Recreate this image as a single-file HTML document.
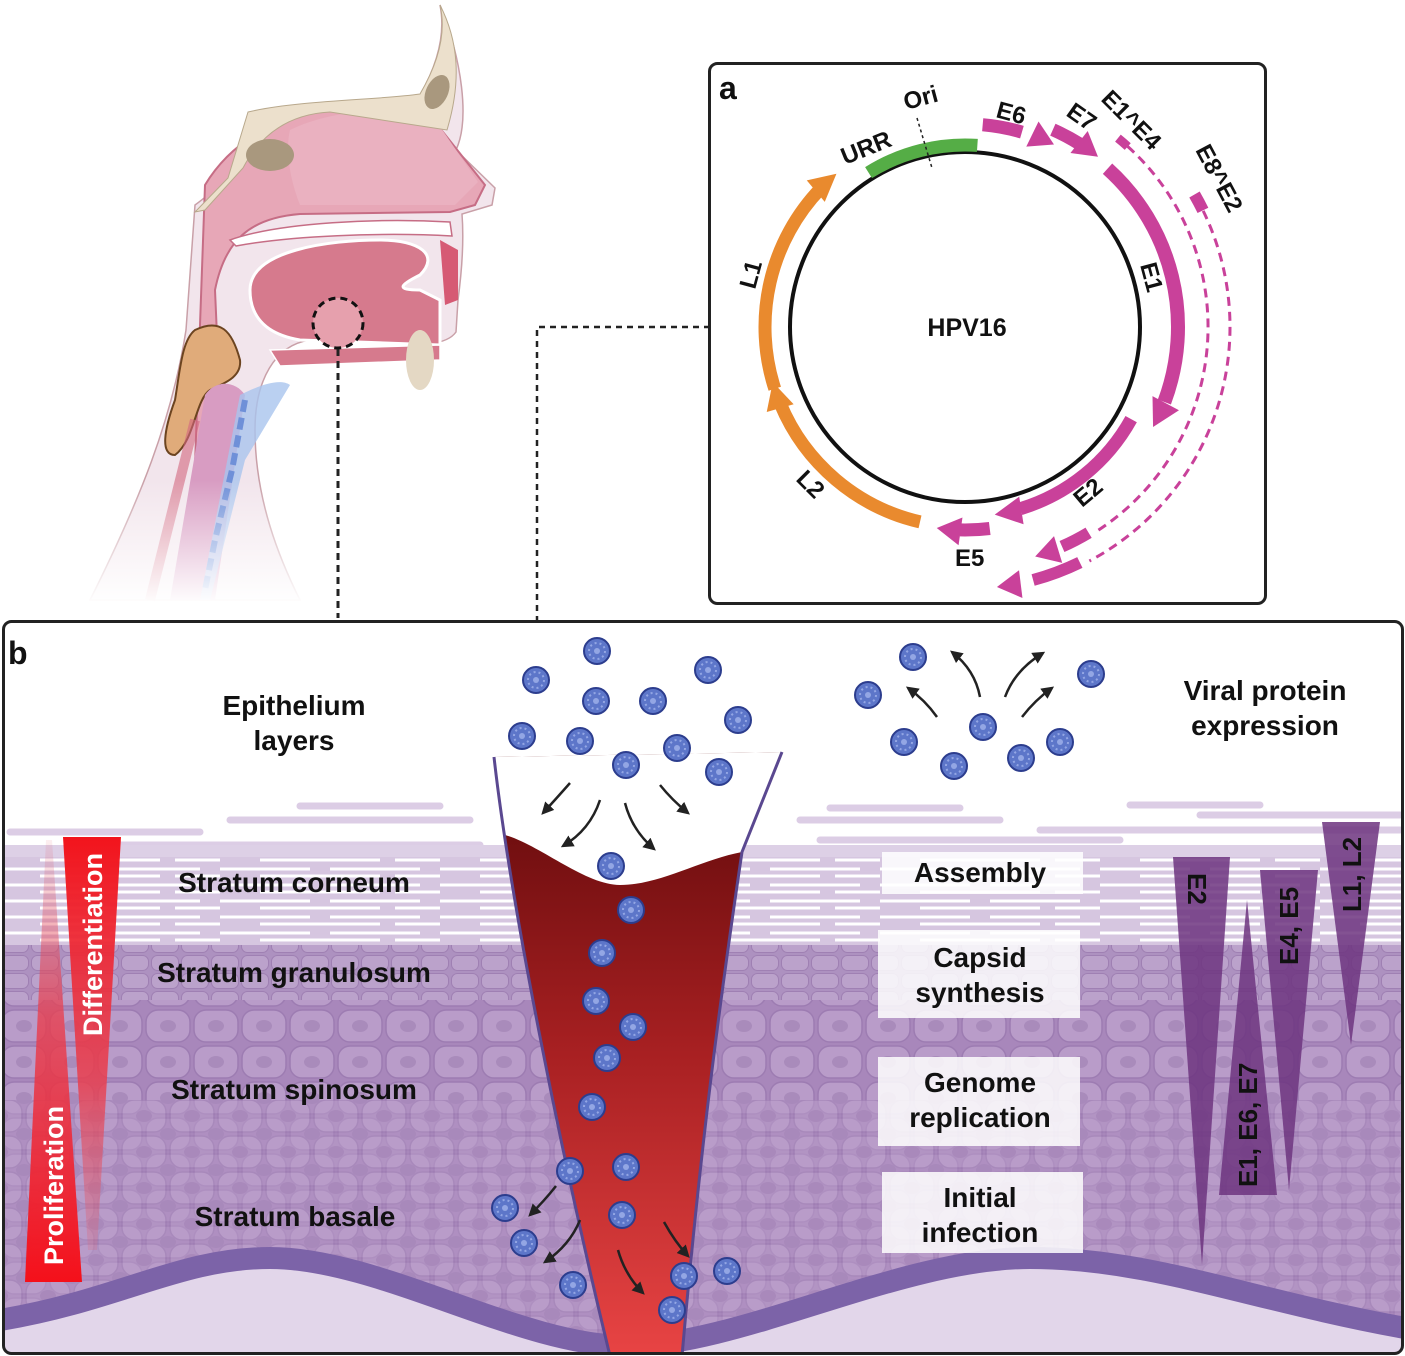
<!DOCTYPE html>
<html><head><meta charset="utf-8"><style>
html,body{margin:0;padding:0;background:#fff}
svg{display:block}
text{font-family:"Liberation Sans",Arial,sans-serif;font-weight:bold;fill:#111}
</style></head><body>
<svg width="1405" height="1356" viewBox="0 0 1405 1356" xmlns="http://www.w3.org/2000/svg">
<defs>
<linearGradient id="blood" x1="0" y1="0" x2="0" y2="1">
<stop offset="0" stop-color="#5c0809"/><stop offset="0.5" stop-color="#a82022"/><stop offset="1" stop-color="#e84444"/></linearGradient>
<linearGradient id="fadeW" x1="0" y1="0" x2="0" y2="1">
<stop offset="0" stop-color="#fff" stop-opacity="0"/><stop offset="1" stop-color="#fff" stop-opacity="1"/></linearGradient>
<linearGradient id="diff" x1="0" y1="0" x2="0" y2="1">
<stop offset="0" stop-color="#f2141c"/><stop offset="0.6" stop-color="#e84050" stop-opacity="0.85"/><stop offset="1" stop-color="#e06070" stop-opacity="0.2"/></linearGradient>
<linearGradient id="prol" x1="0" y1="1" x2="0" y2="0">
<stop offset="0" stop-color="#f5101a"/><stop offset="0.6" stop-color="#e84050" stop-opacity="0.8"/><stop offset="1" stop-color="#e06070" stop-opacity="0.1"/></linearGradient>
<pattern id="cells" width="48" height="36" patternUnits="userSpaceOnUse">
<rect width="48" height="36" fill="#a887bb"/>
<rect x="2" y="2" width="44" height="32" rx="12" fill="#b99cc9" stroke="#9d7cb2" stroke-width="1.5"/>
<ellipse cx="24" cy="18" rx="8" ry="6" fill="#a98bbb"/>
</pattern>
<pattern id="cells2" width="48" height="36" patternUnits="userSpaceOnUse" x="24" y="18">
<rect width="48" height="36" fill="#a887bb"/>
<rect x="2" y="2" width="44" height="32" rx="12" fill="#b99cc9" stroke="#9d7cb2" stroke-width="1.5"/>
<ellipse cx="24" cy="18" rx="8" ry="6" fill="#a98bbb"/>
</pattern>
<pattern id="gran" width="30" height="18" patternUnits="userSpaceOnUse">
<rect width="30" height="18" fill="#ad91c0"/>
<rect x="1.5" y="1.5" width="27" height="15" rx="6" fill="#bba2cb" stroke="#9f80b3" stroke-width="1"/>
</pattern>
<pattern id="corn" width="220" height="16" patternUnits="userSpaceOnUse">
<rect width="220" height="16" fill="#d6c6e0"/>
<path d="M0 5 H90 M110 5 H200 M40 12 H160 M175 12 H220" stroke="#fff" stroke-width="3"/>
</pattern>
<marker id="ah" viewBox="0 0 10 10" refX="8" refY="5" markerWidth="5" markerHeight="5" orient="auto"><path d="M0 0 L10 5 L0 10 Z" fill="#222"/></marker>
<g id="v"><circle r="13" fill="#5d76c9" stroke="#2c3d8e" stroke-width="2"/>
<circle r="8" fill="none" stroke="#93a6e4" stroke-width="2" stroke-dasharray="2 3"/>
<circle r="3" fill="#93a6e4"/></g>
</defs>

<!-- ===== HEAD ===== -->
<g>
<path d="M440 5 C462 60 470 120 456 150 L495 188 L492 205 L462 214 C464 240 462 270 458 300 L456 332 C446 346 420 345 390 342 L310 340 C275 345 255 380 255 430 C255 500 280 560 300 600 L90 600 C140 500 172 420 186 330 L195 205 C230 180 300 105 420 95 C440 60 445 30 440 5 Z" fill="#f2e5ec" stroke="#c9a0a8" stroke-width="1.5"/>
<path d="M205 185 C235 135 290 112 335 108 L420 103 L485 185 L475 205 L450 212 L300 214 C250 218 225 240 215 290 L222 450 L195 465 Z" fill="#e7a7b7" stroke="#c66d85" stroke-width="2"/>
<path d="M290 130 C330 110 400 105 430 112 L478 182 L455 205 L300 205 C290 180 285 150 290 130 Z" fill="#eab1c0"/>
<path d="M195 212 L228 178 L248 112 C300 100 380 100 420 94 C440 60 446 30 440 5 C458 40 462 80 447 130 L330 112 C292 114 262 132 243 168 L205 210 Z" fill="#ece0cc" stroke="#b8a88c" stroke-width="1"/>
<ellipse cx="270" cy="155" rx="24" ry="16" fill="#a9987e"/>
<ellipse cx="437" cy="92" rx="11" ry="18" fill="#a9987e" transform="rotate(25 437 92)"/>
<path d="M230 240 C280 222 380 218 450 222 L452 236 C380 232 290 236 236 246 Z" fill="#fff" stroke="#c66d85" stroke-width="1.5"/>
<path d="M250 290 C250 250 330 240 380 240 C420 240 440 255 420 275 C400 285 395 290 420 290 L440 300 L440 345 L300 340 C270 335 250 320 250 290 Z" fill="#d67a8d" stroke="#fff" stroke-width="3"/>
<path d="M270 350 L440 345 L440 360 L280 366 Z" fill="#d67a8d" stroke="#fff" stroke-width="1.5"/>
<ellipse cx="420" cy="360" rx="14" ry="30" fill="#e4d8c4"/>
<path d="M440 240 L458 250 L458 300 L445 305 Z" fill="#d65a74"/>
<path d="M195 330 C220 318 232 330 240 360 C242 378 222 384 210 390 C195 400 195 440 175 455 C160 455 164 430 175 400 C180 370 182 340 195 330 Z" fill="#e0ab7a" stroke="#6c4420" stroke-width="2"/>
<path d="M205 395 C215 380 235 380 245 395 L215 600 L170 600 Z" fill="#d89cc2"/>
<path d="M240 395 C260 385 280 378 290 385 L245 460 L210 600 L200 600 Z" fill="#a9c4ee" opacity="0.8"/>
<path d="M245 400 L232 470 L215 540 L205 590" stroke="#6f90d8" stroke-width="6" stroke-dasharray="12 6" fill="none"/>
<path d="M150 600 C170 520 185 460 195 420" stroke="#d2667e" stroke-width="10" fill="none" opacity="0.6"/>
<rect x="80" y="480" width="240" height="125" fill="url(#fadeW)"/>
<circle cx="338" cy="323" r="25" fill="#e6a0ad" stroke="#111" stroke-width="3" stroke-dasharray="7 5"/>
</g>

<path d="M338 349 V618" stroke="#222" stroke-width="3" stroke-dasharray="7 5" fill="none"/>
<path d="M710 327 H537 V665" stroke="#222" stroke-width="2.5" stroke-dasharray="6 5" fill="none"/>

<!-- ===== PANEL A ===== -->
<rect x="709.5" y="63.5" width="556" height="540" rx="8" fill="#fff" stroke="#222" stroke-width="3"/>
<text x="719" y="99" font-size="32">a</text>
<circle cx="965" cy="327" r="175" fill="none" stroke="#111" stroke-width="4"/>
<text x="967" y="336" font-size="25" text-anchor="middle">HPV16</text>
<circle cx="965" cy="327" r="182" fill="none" stroke="#55ad46" stroke-width="13" stroke-dasharray="114 2000" transform="rotate(-122 965 327)"/>
<line x1="917" y1="118" x2="932" y2="168" stroke="#222" stroke-width="1.5" stroke-dasharray="3 3"/>
<circle cx="965" cy="327" r="200" fill="none" stroke="#e98a2e" stroke-width="13" stroke-dasharray="216 2000" transform="rotate(162 965 327)"/>
<g transform="rotate(230 965 327)"><polygon points="1151,300 1179,300 1165,327" fill="#e98a2e"/></g>
<circle cx="965" cy="327" r="200" fill="none" stroke="#e98a2e" stroke-width="13" stroke-dasharray="190 2000" transform="rotate(103 965 327)"/>
<g transform="rotate(164 965 327)"><polygon points="1151,300 1179,300 1165,327" fill="#e98a2e"/></g>
<!-- E6 -->
<circle cx="965" cy="327" r="203" fill="none" stroke="#c9419a" stroke-width="13" stroke-dasharray="40 2000" transform="rotate(-85 965 327)"/>
<g transform="rotate(-64 965 327)"><polygon points="1154,303 1182,303 1168,327" fill="#c9419a"/></g>
<!-- E7 -->
<circle cx="965" cy="327" r="216" fill="none" stroke="#c9419a" stroke-width="13" stroke-dasharray="30 2000" transform="rotate(-66 965 327)"/>
<g transform="rotate(-52 965 327)"><polygon points="1167,303 1195,303 1181,327" fill="#c9419a"/></g>
<!-- E1 -->
<circle cx="965" cy="327" r="213" fill="none" stroke="#c9419a" stroke-width="14" stroke-dasharray="255 2000" transform="rotate(-48 965 327)"/>
<g transform="rotate(28 965 327)"><polygon points="1163,300 1193,300 1178,327" fill="#c9419a"/></g>
<!-- E2 -->
<circle cx="965" cy="327" r="190" fill="none" stroke="#c9419a" stroke-width="13" stroke-dasharray="146 2000" transform="rotate(29 965 327)"/>
<g transform="rotate(81 965 327)"><polygon points="1141,300 1169,300 1155,327" fill="#c9419a"/></g>
<!-- E5 -->
<circle cx="965" cy="327" r="203" fill="none" stroke="#c9419a" stroke-width="13" stroke-dasharray="30 2000" transform="rotate(83 965 327)"/>
<g transform="rotate(98 965 327)"><polygon points="1154,303 1182,303 1168,327" fill="#c9419a"/></g>
<!-- E1^E4 -->
<circle cx="965" cy="327" r="243" fill="none" stroke="#c9419a" stroke-width="9" stroke-dasharray="13 2000" transform="rotate(-51 965 327)"/>
<path d="M1127.6 146.4 A243 243 0 0 1 1093.8 533.1" fill="none" stroke="#c9419a" stroke-width="3" stroke-dasharray="9 6"/>
<circle cx="965" cy="327" r="240" fill="none" stroke="#c9419a" stroke-width="12" stroke-dasharray="30 2000" transform="rotate(59 965 327)"/>
<g transform="rotate(73 965 327)"><polygon points="1191,303 1219,303 1205,327" fill="#c9419a"/></g>
<!-- E8^E2 -->
<circle cx="965" cy="327" r="265" fill="none" stroke="#c9419a" stroke-width="12" stroke-dasharray="18 2000" transform="rotate(-30 965 327)"/>
<path d="M1203.2 210.9 A265 265 0 0 1 1089.4 561" fill="none" stroke="#c9419a" stroke-width="3" stroke-dasharray="9 6"/>
<circle cx="965" cy="327" r="262" fill="none" stroke="#c9419a" stroke-width="12" stroke-dasharray="50 2000" transform="rotate(64 965 327)"/>
<g transform="rotate(83 965 327)"><polygon points="1213,303 1241,303 1227,327" fill="#c9419a"/></g>
<text x="906" y="110" font-size="24" transform="rotate(-15 906 110)">Ori</text>
<text x="845" y="165" font-size="24" transform="rotate(-22 845 165)">URR</text>
<text x="995" y="117" font-size="24" transform="rotate(15 995 117)">E6</text>
<text x="1065" y="115" font-size="24" transform="rotate(35 1065 115)">E7</text>
<text x="1100" y="100" font-size="24" transform="rotate(45 1100 100)">E1^E4</text>
<text x="1195" y="150" font-size="24" transform="rotate(62 1195 150)">E8^E2</text>
<text x="1140" y="265" font-size="24" transform="rotate(75 1140 265)">E1</text>
<text x="1082" y="508" font-size="24" transform="rotate(-40 1082 508)">E2</text>
<text x="955" y="566" font-size="24">E5</text>
<text x="795" y="480" font-size="24" transform="rotate(45 795 480)">L2</text>
<text x="755" y="290" font-size="24" transform="rotate(-75 755 290)">L1</text>

<!-- ===== PANEL B ===== -->
<clipPath id="bclip"><rect x="4" y="622" width="1399" height="731" rx="8"/></clipPath>
<g clip-path="url(#bclip)">
<rect x="4" y="622" width="1399" height="731" fill="#fff"/>
<g stroke="#dccde5" stroke-width="7" stroke-linecap="round">
<path d="M10 832 H200 M230 820 H470 M100 845 H480 M300 806 H440 M800 820 H1000 M830 808 H960 M1040 830 H1300 M1130 805 H1260 M1200 815 H1400 M820 840 H1120 M1300 830 H1400"/>
</g>
<rect x="4" y="850" width="1399" height="110" fill="url(#corn)"/>
<rect x="4" y="845" width="1399" height="12" fill="#ddd0e6"/>
<rect x="4" y="945" width="1399" height="60" fill="url(#gran)"/>
<path d="M4 1000 H1403 V1356 H4 Z" fill="url(#cells)"/>
<path d="M4 1100 H1403 V1356 H4 Z" fill="url(#cells2)" opacity="0.6"/>
<path d="M0 1320 C120 1300 180 1258 270 1258 C380 1258 520 1346 627 1346 C740 1346 900 1258 1030 1258 C1150 1258 1250 1300 1405 1328 V1360 H0 Z" fill="#e2d6ea"/>
<path d="M0 1320 C120 1300 180 1258 270 1258 C380 1258 520 1346 627 1346 C740 1346 900 1258 1030 1258 C1150 1258 1250 1300 1405 1328" fill="none" stroke="#7c63a8" stroke-width="22"/>
<!-- vessel -->
<path d="M494 757 C500 800 503 820 505 835 C540 845 585 885 620 885 C660 885 700 860 742 852 L782 752 Z" fill="#fff"/>
<path d="M494 757 C510 900 560 1150 610 1356 L682 1356 C700 1150 720 1000 742 852 L782 752 Z" fill="url(#blood)"/>
<path d="M494 757 C500 800 503 820 505 835 C540 845 585 885 620 885 C660 885 700 860 742 852 L782 752 Z" fill="#fff"/>
<path d="M494 757 C510 900 560 1150 610 1356" stroke="#5a4890" stroke-width="3" fill="none"/>
<path d="M782 752 L742 852 C720 1000 700 1150 682 1356" stroke="#5a4890" stroke-width="3" fill="none"/>
<!-- left bars -->
<polygon points="63,837 121,837 97,1250 88,1250" fill="url(#diff)"/>
<polygon points="46,840 52,840 82,1282 25,1282" fill="url(#prol)"/>
<text x="102" y="1036" font-size="27" style="fill:#fff" transform="rotate(-90 102 1036)">Differentiation</text>
<text x="63" y="1265" font-size="27" style="fill:#fff" transform="rotate(-90 63 1265)">Proliferation</text>
<g fill="#fff" opacity="0.85">
<rect x="882" y="852" width="201" height="42"/>
<rect x="878" y="930" width="202" height="88"/>
<rect x="878" y="1057" width="202" height="89"/>
<rect x="882" y="1172" width="201" height="81"/>
</g>
<g font-size="28" text-anchor="middle">
<text x="980" y="882">Assembly</text>
<text x="980" y="967">Capsid</text><text x="980" y="1002">synthesis</text>
<text x="980" y="1092">Genome</text><text x="980" y="1127">replication</text>
<text x="980" y="1207">Initial</text><text x="980" y="1242">infection</text>
</g>
<g fill="#6e3580" opacity="0.85">
<polygon points="1173,857 1230,857 1202,1265"/>
<polygon points="1219,1195 1277,1195 1247,900"/>
<polygon points="1260,870 1318,870 1289,1190"/>
<polygon points="1322,822 1380,822 1351,1045"/>
</g>
<g font-size="26">
<text x="1188" y="873" transform="rotate(90 1188 873)">E2</text>
<text x="1257" y="1187" transform="rotate(-90 1257 1187)">E1, E6, E7</text>
<text x="1298" y="965" transform="rotate(-90 1298 965)">E4, E5</text>
<text x="1361" y="912" transform="rotate(-90 1361 912)">L1, L2</text>
</g>
<text x="8" y="664" font-size="32">b</text>
<g font-size="28" text-anchor="middle">
<text x="294" y="715">Epithelium</text><text x="294" y="750">layers</text>
<text x="1265" y="700">Viral protein</text><text x="1265" y="735">expression</text>
<text x="294" y="892">Stratum corneum</text>
<text x="294" y="982">Stratum granulosum</text>
<text x="294" y="1099">Stratum spinosum</text>
<text x="295" y="1226">Stratum basale</text>
</g>
<g>
<use href="#v" x="536" y="680"/><use href="#v" x="597" y="651"/><use href="#v" x="708" y="670"/><use href="#v" x="522" y="736"/><use href="#v" x="596" y="701"/><use href="#v" x="653" y="701"/><use href="#v" x="738" y="720"/><use href="#v" x="580" y="741"/><use href="#v" x="677" y="748"/><use href="#v" x="626" y="765"/><use href="#v" x="719" y="772"/>
<use href="#v" x="611" y="866"/><use href="#v" x="631" y="910"/><use href="#v" x="602" y="953"/><use href="#v" x="596" y="1001"/><use href="#v" x="633" y="1027"/><use href="#v" x="607" y="1058"/><use href="#v" x="592" y="1107"/><use href="#v" x="570" y="1171"/><use href="#v" x="626" y="1167"/><use href="#v" x="622" y="1215"/><use href="#v" x="505" y="1208"/><use href="#v" x="524" y="1243"/><use href="#v" x="573" y="1285"/><use href="#v" x="684" y="1276"/><use href="#v" x="727" y="1271"/><use href="#v" x="672" y="1310"/>
<use href="#v" x="913" y="657"/><use href="#v" x="868" y="695"/><use href="#v" x="1091" y="674"/><use href="#v" x="983" y="727"/><use href="#v" x="904" y="742"/><use href="#v" x="954" y="766"/><use href="#v" x="1021" y="758"/><use href="#v" x="1060" y="742"/>
</g>
<g stroke="#222" stroke-width="2.5" fill="none" marker-end="url(#ah)">
<path d="M570 783 Q555 800 543 813"/>
<path d="M600 800 Q590 830 563 846"/>
<path d="M625 803 Q632 830 654 849"/>
<path d="M660 785 Q672 800 688 813"/>
<path d="M980 697 Q975 670 952 652"/>
<path d="M1005 697 Q1015 670 1043 653"/>
<path d="M937 717 Q925 700 908 688"/>
<path d="M1022 717 Q1035 700 1052 688"/>
<path d="M556 1186 Q545 1200 530 1215"/>
<path d="M580 1220 Q570 1245 545 1262"/>
<path d="M618 1250 Q625 1275 643 1293"/>
<path d="M664 1222 Q675 1242 688 1256"/>
</g>
</g>
<rect x="3.5" y="621.5" width="1399" height="732" rx="8" fill="none" stroke="#222" stroke-width="3"/>
</svg>
</body></html>
